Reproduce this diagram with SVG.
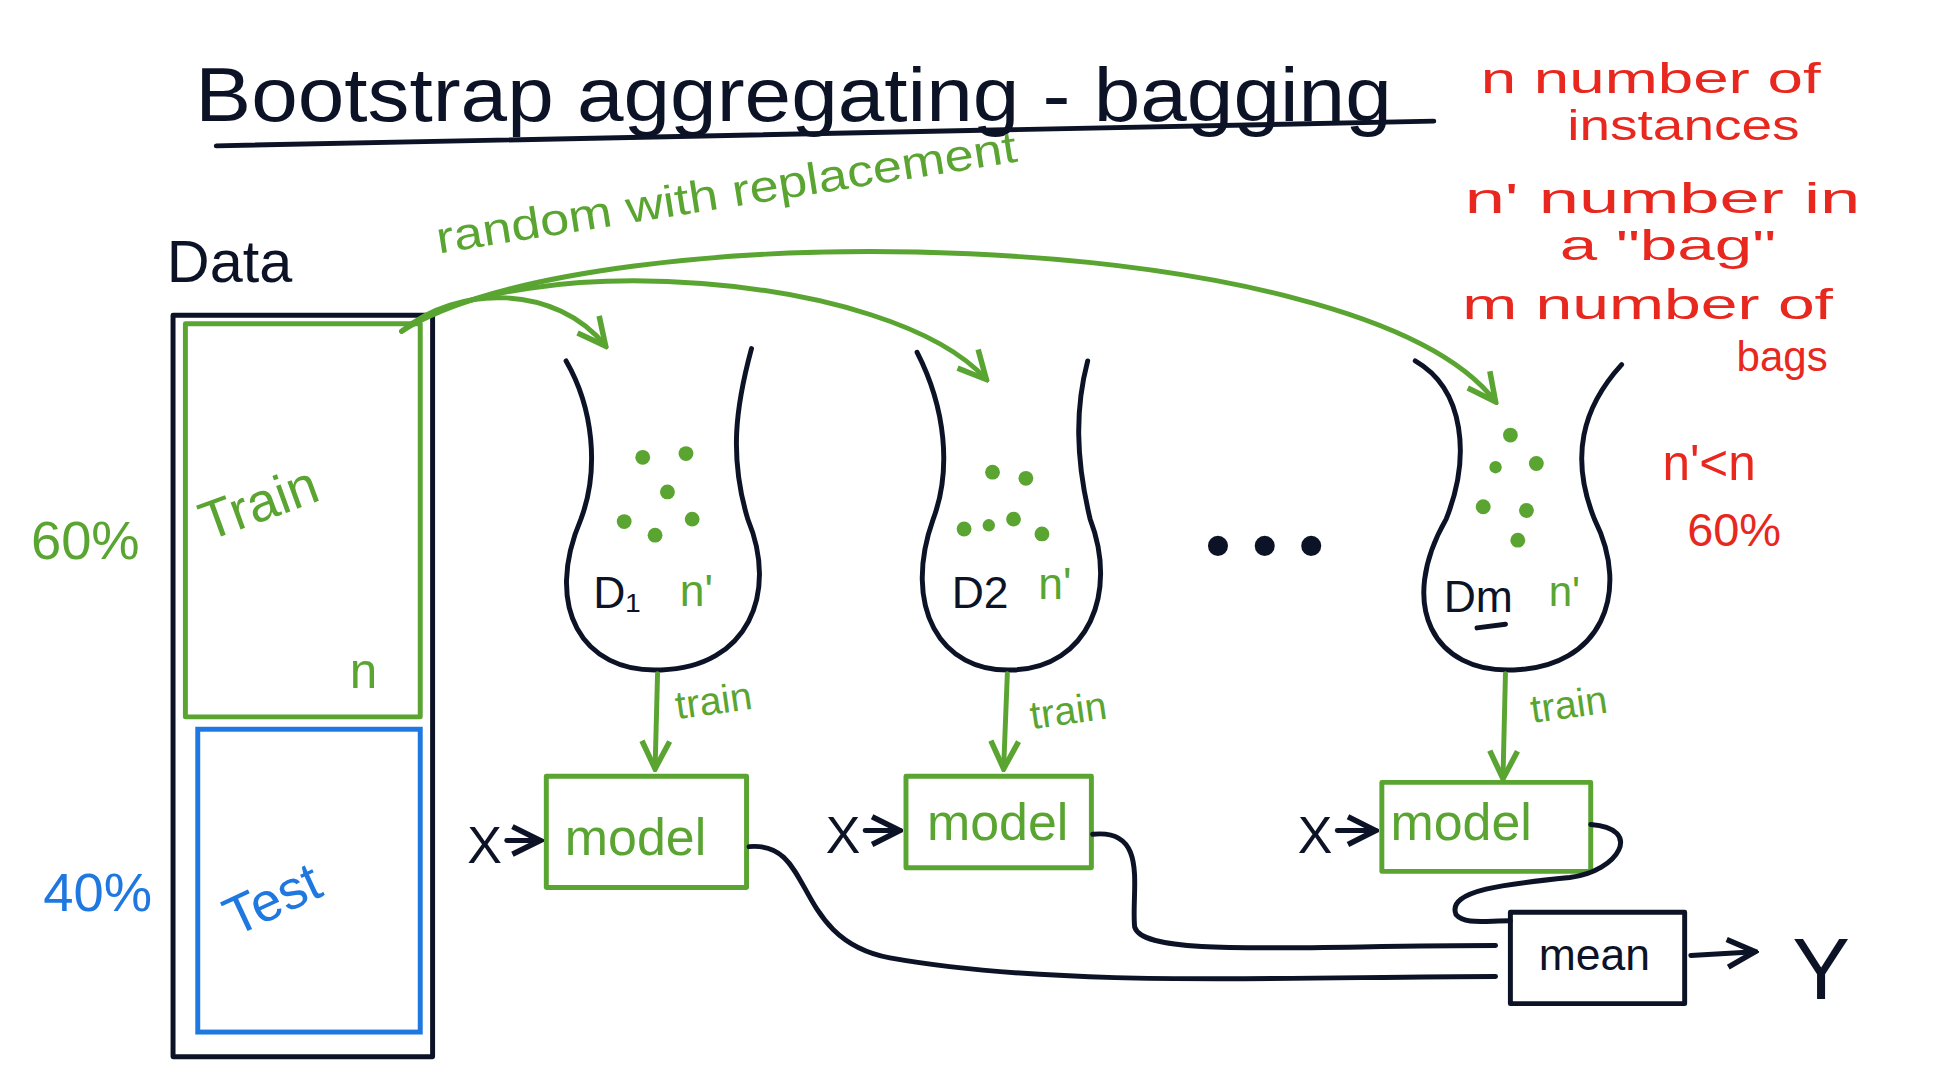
<svg xmlns="http://www.w3.org/2000/svg" width="1938" height="1084" viewBox="0 0 1938 1084">
<style>
.k{fill:none;stroke:#0d1326;stroke-width:4;stroke-linecap:round;stroke-linejoin:round}
.g{fill:none;stroke:#5aa532;stroke-width:4;stroke-linecap:round;stroke-linejoin:round}
.b{fill:none;stroke:#1e78e0;stroke-width:4}
.t{font-family:"Liberation Sans",Arial,sans-serif}
.tk{fill:#0d1326}.tg{fill:#5aa532}.tr{fill:#e8281e}.tb{fill:#1e78e0}
</style>
<defs>
<marker id="ag" viewBox="0 0 10 10" refX="9" refY="5" markerWidth="7" markerHeight="7" orient="auto"><path d="M1,1 L9,5 L1,9" fill="none" stroke="#5aa532" stroke-width="1.6"/></marker>
<marker id="ak" viewBox="0 0 10 10" refX="9" refY="5" markerWidth="7" markerHeight="7" orient="auto"><path d="M1,1 L9,5 L1,9" fill="none" stroke="#0d1326" stroke-width="1.6"/></marker>
</defs>
<rect width="1938" height="1084" fill="#fff"/>
<g transform="scale(1.236)">
<g id="title">
<text class="t tk" x="158" y="98" font-size="62" textLength="968" lengthAdjust="spacingAndGlyphs">Bootstrap aggregating - bagging</text>
<path class="k" d="M175,118 L1160,98"/>
</g>
<g id="legend" class="t tr" font-size="34">
<text x="1198" y="75" textLength="275" lengthAdjust="spacingAndGlyphs">n  number of</text>
<text x="1268" y="113" textLength="188" lengthAdjust="spacingAndGlyphs">instances</text>
<text x="1185" y="172" textLength="320" lengthAdjust="spacingAndGlyphs">n'  number in</text>
<text x="1262" y="210" textLength="175" lengthAdjust="spacingAndGlyphs">a "bag"</text>
<text x="1183" y="258" textLength="300" lengthAdjust="spacingAndGlyphs">m  number of</text>
<text x="1405" y="300">bags</text>
<text x="1345" y="388" font-size="40">n'&lt;n</text>
<text x="1365" y="442" font-size="38">60%</text>
</g>
<text class="t tg" font-size="36" transform="translate(355,205) rotate(-9)" textLength="475" lengthAdjust="spacingAndGlyphs">random with replacement</text>
<g id="data">
<text class="t tk" x="135" y="228" font-size="48">Data</text>
<rect class="k" x="140" y="255" width="210" height="600"/>
<rect class="g" x="150" y="262" width="190" height="318"/>
<rect class="b" x="160" y="590" width="180" height="245"/>
<text class="t tg" x="25" y="452" font-size="44">60%</text>
<text class="t tb" x="35" y="737" font-size="44">40%</text>
<text class="t tg" font-size="44" transform="translate(168,438) rotate(-20)">Train</text>
<text class="t tg" x="283" y="557" font-size="40">n</text>
<text class="t tb" font-size="44" transform="translate(190,758) rotate(-25)">Test</text>
</g>
<g id="bag1">
<path class="k" d="M458,292 C480,330 485,380 470,420 C440,490 470,545 535,542 C605,540 630,480 605,420 C590,370 595,330 608,282"/>
<g fill="#5aa532"><circle cx="520" cy="370" r="6"/><circle cx="555" cy="367" r="6"/><circle cx="540" cy="398" r="6"/><circle cx="505" cy="422" r="6"/><circle cx="530" cy="433" r="6"/><circle cx="560" cy="420" r="6"/></g>
<text class="t tk" x="480" y="492" font-size="36">D₁</text><text class="t tg" x="550" y="490" font-size="36">n'</text>
</g>
<g id="bag2">
<path class="k" d="M742,285 C765,330 770,380 755,420 C730,490 760,545 820,542 C880,540 905,480 882,420 C870,370 870,330 880,292"/>
<g fill="#5aa532"><circle cx="803" cy="382" r="6"/><circle cx="830" cy="387" r="6"/><circle cx="820" cy="420" r="6"/><circle cx="780" cy="428" r="6"/><circle cx="800" cy="425" r="5"/><circle cx="843" cy="432" r="6"/></g>
<text class="t tk" x="770" y="492" font-size="36">D2</text><text class="t tg" x="840" y="485" font-size="36">n'</text>
</g>
<text class="t tk" x="975" y="462" font-size="60">• • •</text>
<g id="bagm">
<path class="k" d="M1145,292 C1185,315 1190,370 1170,420 C1130,490 1160,545 1225,542 C1295,540 1320,480 1290,420 C1270,370 1280,330 1312,295"/>
<g fill="#5aa532"><circle cx="1222" cy="352" r="6"/><circle cx="1210" cy="378" r="5"/><circle cx="1243" cy="375" r="6"/><circle cx="1200" cy="410" r="6"/><circle cx="1235" cy="413" r="6"/><circle cx="1228" cy="437" r="6"/></g>
<text class="t tk" x="1168" y="495" font-size="36">Dm</text><text class="t tg" x="1253" y="490" font-size="34">n'</text>
<path class="k" d="M1195,508 L1218,505"/>
</g>
<g id="model1"><rect class="g" x="442" y="628" width="162" height="90"/><text class="t tg" x="457" y="692" font-size="42">model</text><text class="t tk" x="378" y="698" font-size="42">X</text></g>
<g id="model2"><rect class="g" x="733" y="628" width="150" height="74"/><text class="t tg" x="750" y="680" font-size="42">model</text><text class="t tk" x="668" y="690" font-size="42">X</text></g>
<g id="model3"><rect class="g" x="1118" y="633" width="169" height="72"/><text class="t tg" x="1125" y="680" font-size="42">model</text><text class="t tk" x="1050" y="690" font-size="42">X</text></g>
<g id="mean"><rect class="k" x="1222" y="738" width="141" height="74"/><text class="t tk" x="1245" y="785" font-size="36">mean</text><text class="t tk" x="1450" y="808" font-size="70">Y</text></g>
<g id="connectors">
<path class="g" marker-end="url(#ag)" d="M325,268 C370,230 450,230 490,280"/>
<path class="g" marker-end="url(#ag)" d="M325,268 C420,200 720,220 798,307"/>
<path class="g" marker-end="url(#ag)" d="M325,268 C480,170 1100,180 1210,325"/>
<path class="g" marker-end="url(#ag)" d="M532,545 L530,622"/>
<path class="g" marker-end="url(#ag)" d="M815,545 L812,622"/>
<path class="g" marker-end="url(#ag)" d="M1218,545 L1216,630"/>
<text class="t tg" x="548" y="582" font-size="32" transform="rotate(-8 548 582)">train</text>
<text class="t tg" x="835" y="590" font-size="32" transform="rotate(-8 835 590)">train</text>
<text class="t tg" x="1240" y="585" font-size="32" transform="rotate(-8 1240 585)">train</text>
<path class="k" marker-end="url(#ak)" d="M410,680 L437,680"/>
<path class="k" marker-end="url(#ak)" d="M700,672 L728,672"/>
<path class="k" marker-end="url(#ak)" d="M1082,672 L1113,672"/>
<path class="k" d="M606,685 C660,680 640,760 720,775 C860,800 1050,790 1210,790"/>
<path class="k" d="M884,675 C930,670 915,720 918,750 C925,775 1050,765 1210,765"/>
<path class="k" d="M1287,667 C1330,670 1310,705 1270,710 C1220,715 1170,720 1178,740 C1185,748 1200,745 1222,745"/>
<path class="k" marker-end="url(#ak)" d="M1368,773 L1420,770"/>
</g>
</g>
</svg>
